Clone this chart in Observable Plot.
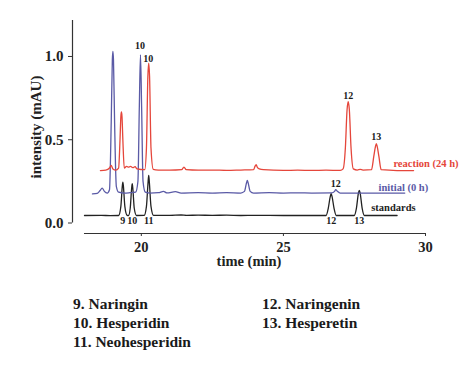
<!DOCTYPE html>
<html>
<head>
<meta charset="utf-8">
<script src="https://cdn.jsdelivr.net/npm/d3@7"></script>
<script src="https://cdn.jsdelivr.net/npm/@observablehq/plot@0.6"></script>
<style>
  body { margin: 0; background: #fff; font-family: "Liberation Serif", "Times New Roman", "DejaVu Serif", serif; }
  #wrap { position: relative; width: 474px; height: 371px; }
  .leg { position: absolute; font-family: "Liberation Serif", "Times New Roman", "DejaVu Serif", serif; font-size: 15.5px; font-weight: bold; color: #1a1a1a; line-height: 19px; white-space: nowrap; }
  #chart svg { font-family: "Liberation Serif", "Times New Roman", "DejaVu Serif", serif !important; }
</style>
</head>
<body>
<div id="wrap">
  <div id="chart"></div>
  <div class="leg" style="left:73px; top:294px;">9. Naringin<br>10. Hesperidin<br>11. Neohesperidin</div>
  <div class="leg" style="left:262px; top:294px;">12. Naringenin<br>13. Hesperetin</div>
</div>
<script>
// standards trace (time in min, intensity in mAU)
const stdT = [18.00,18.60,18.90,19.20,19.28,19.33,19.35,19.37,19.42,19.50,19.55,19.61,19.66,19.68,19.70,19.75,19.83,20.10,20.18,20.24,20.26,20.28,20.34,20.43,21.00,21.40,21.60,22.00,22.50,23.00,23.50,24.00,25.00,26.00,26.50,26.58,26.65,26.68,26.71,26.78,26.86,27.49,27.57,27.64,27.67,27.70,27.77,27.85,29.00];
const stdV = [0.045,0.046,0.044,0.045,0.10,0.22,0.246,0.22,0.10,0.046,0.045,0.09,0.21,0.236,0.21,0.09,0.045,0.046,0.10,0.25,0.286,0.25,0.10,0.046,0.046,0.048,0.046,0.047,0.046,0.047,0.045,0.046,0.045,0.045,0.045,0.09,0.16,0.176,0.16,0.09,0.045,0.045,0.09,0.18,0.196,0.18,0.09,0.045,0.045];
// initial (0 h) trace
const iniT = [18.28,18.45,18.55,18.62,18.70,18.80,18.88,18.94,18.98,19.00,19.02,19.06,19.12,19.20,19.40,19.60,19.80,19.88,19.93,19.97,20.01,20.06,20.14,20.30,20.60,20.78,20.90,21.20,21.40,22.00,22.50,23.00,23.50,23.63,23.70,23.73,23.76,23.83,23.95,24.50,25.00,25.50,26.00,26.70,26.80,26.84,26.90,27.00,29.27];
const iniV = [0.175,0.178,0.195,0.21,0.19,0.18,0.20,0.60,0.98,1.03,0.98,0.60,0.22,0.185,0.18,0.182,0.185,0.25,0.70,1.01,0.70,0.25,0.185,0.18,0.182,0.19,0.181,0.188,0.18,0.182,0.18,0.182,0.18,0.19,0.24,0.256,0.24,0.19,0.18,0.182,0.18,0.181,0.18,0.181,0.19,0.20,0.19,0.18,0.18];
// reaction (24 h) trace
const rxnT = [18.56,18.75,18.88,18.94,19.00,19.10,19.20,19.25,19.28,19.30,19.32,19.35,19.40,19.48,19.55,19.62,19.70,19.78,19.85,20.12,20.18,20.23,20.26,20.29,20.34,20.42,20.60,21.00,21.42,21.50,21.58,22.00,22.50,23.00,23.50,23.95,24.00,24.04,24.08,24.15,24.30,25.00,25.50,26.00,26.50,27.00,27.10,27.18,27.24,27.28,27.32,27.38,27.46,27.60,27.70,27.80,28.10,28.18,28.24,28.27,28.30,28.36,28.44,29.00,29.58];
const rxnV = [0.315,0.318,0.33,0.346,0.325,0.318,0.33,0.50,0.64,0.667,0.64,0.50,0.33,0.34,0.335,0.34,0.332,0.338,0.325,0.32,0.45,0.88,0.96,0.88,0.45,0.322,0.318,0.317,0.32,0.336,0.32,0.317,0.318,0.316,0.318,0.32,0.34,0.35,0.335,0.325,0.32,0.316,0.317,0.316,0.317,0.316,0.325,0.45,0.68,0.728,0.68,0.45,0.325,0.318,0.322,0.318,0.32,0.40,0.46,0.477,0.46,0.40,0.32,0.315,0.315];

// peak number labels
const peakText = ["10","10","12","13","12","9","10","11","12","13"];
const peakT    = [19.95,20.24,27.28,28.27,26.84,19.35,19.68,20.26,26.68,27.67];
const peakY    = [1.066,0.986,0.766,0.515,0.237,0.015,0.015,0.015,0.015,0.015];

// trace names
const seriesNames  = ["reaction (24 h)","initial (0 h)","standards"];
const seriesColors = ["#e5463b","#5a5aa6","#222222"];
const seriesLabelT = [28.87,28.35,28.09];
const seriesLabelY = [0.357,0.215,0.093];

const yTicks = [0, 0.5, 1.0];
const xTicks = [20, 25, 30];

const traces = [
  ...stdT.map((t, i) => ({t, v: stdV[i], s: "standards"})),
  ...iniT.map((t, i) => ({t, v: iniV[i], s: "initial (0 h)"})),
  ...rxnT.map((t, i) => ({t, v: rxnV[i], s: "reaction (24 h)"}))
];
const peaks = peakText.map((text, i) => ({text, t: peakT[i], y: peakY[i]}));
const seriesLabels = seriesNames.map((name, i) => ({name, t: seriesLabelT[i], y: seriesLabelY[i], c: seriesColors[i]}));

const xMin = 17.578, yMin = -0.063, yMax = 1.216;
const FONT = "'Liberation Serif', 'Times New Roman', 'DejaVu Serif', serif";

const chart = Plot.plot({
  width: 474,
  height: 275,
  marginLeft: 72,
  marginRight: 49,
  marginTop: 20,
  marginBottom: 42,
  style: {fontFamily: FONT, fontWeight: "bold", background: "#fff"},
  x: {domain: [xMin, 30]},
  y: {domain: [yMin, yMax]},
  color: {domain: seriesNames, range: seriesColors},
  marks: [
    Plot.ruleX([xMin], {y1: 0, y2: yMax, stroke: "#333", strokeWidth: 1.2}),
    Plot.ruleY([yMin], {x1: 18, x2: 30, stroke: "#333", strokeWidth: 1.2}),
    Plot.axisY({ticks: yTicks, tickFormat: d3.format(".1f"), tickSize: 4, tickPadding: 5, fontSize: 15, label: "intensity (mAU)", labelAnchor: "center", labelArrow: "none", labelOffset: 42, stroke: "#333", fill: "#222"}),
    Plot.axisX({ticks: xTicks, tickSize: 3, tickPadding: 5, fontSize: 14.5, label: null, stroke: "#333", fill: "#222"}),
    Plot.text(["time (min)"], {frameAnchor: "bottom", dy: 32, fontSize: 14.5, fill: "#222"}),
    Plot.line(traces, {x: "t", y: "v", z: "s", stroke: "s", strokeWidth: 1.3, curve: "monotone-x"}),
    Plot.text(peaks, {x: "t", y: "y", text: "text", fontSize: 10, fill: "#1a1a1a"}),
    Plot.text(seriesLabels, {x: "t", y: "y", text: "name", fill: "c", fontSize: 10.5, textAnchor: "start"})
  ]
});
document.getElementById("chart").appendChild(chart);
</script>
</body>
</html>
